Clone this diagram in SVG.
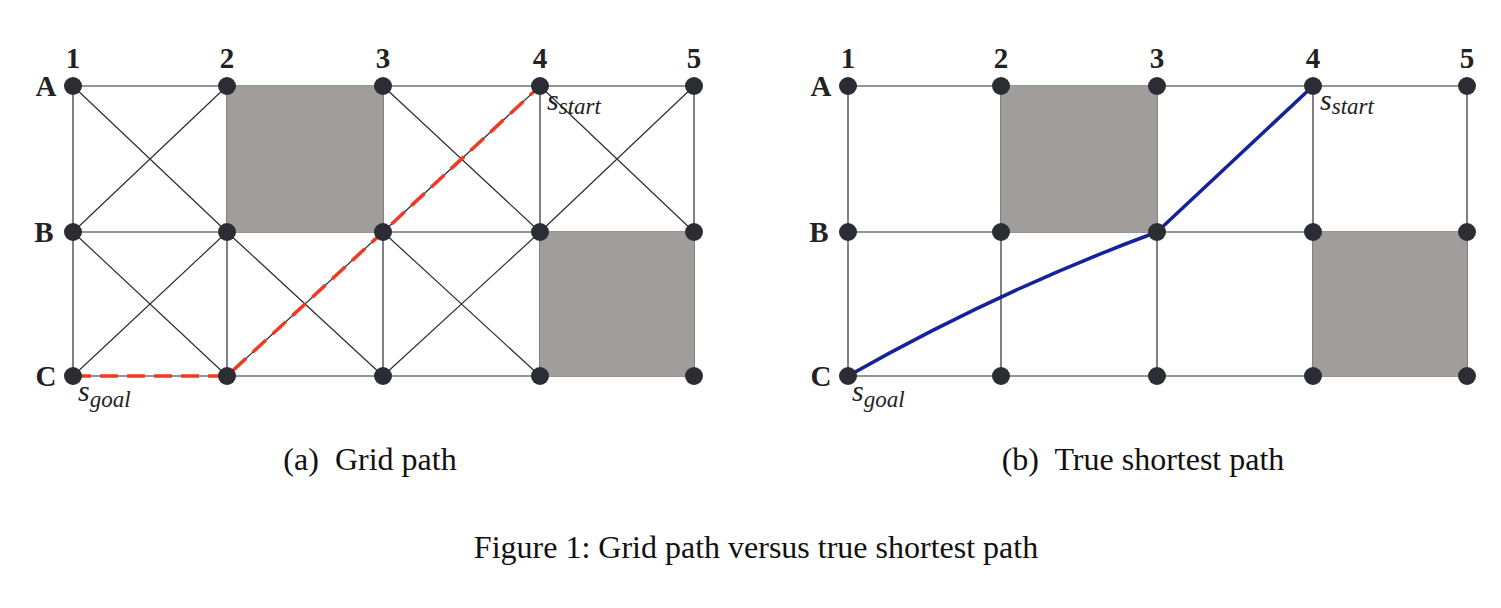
<svg xmlns="http://www.w3.org/2000/svg" width="1501" height="608" viewBox="0 0 1501 608">
<style>
.e{stroke:#2b2d33;stroke-width:1.2;fill:none}
.ob{fill:#a09d9a}
.n{fill:#2b2d33}
.lb{font-family:"Liberation Serif",serif;font-weight:bold;font-size:29px;fill:#222}
.it{font-family:"Liberation Serif",serif;font-style:italic;fill:#222}
.cap{font-family:"Liberation Serif",serif;font-size:32px;fill:#111}
</style>
<rect width="1501" height="608" fill="#fff"/>
<g id="connectors">
<path class="e" d="M73 86H694M73 232H694M73 376H694M73 86V376M227 86V376M383 86V376M540 86V376M694 86V376"/>
<path class="e" d="M73 86L227 232M227 86L73 232M383 86L540 232M540 86L383 232M540 86L694 232M694 86L540 232M73 232L227 376M227 232L73 376M227 232L383 376M383 232L227 376M383 232L540 376M540 232L383 376"/>
<path class="e" d="M848 86H1467M848 232H1467M848 376H1467M848 86V376M1001 86V376M1157 86V376M1313 86V376M1467 86V376"/>
</g>
<g id="obstacles">
<rect class="ob" x="227" y="86" width="156" height="146"/>
<rect class="ob" x="540" y="232" width="154" height="144"/>
<rect class="ob" x="1001" y="86" width="156" height="146"/>
<rect class="ob" x="1313" y="232" width="154" height="144"/>
</g>
<g id="paths">
<path d="M73 376H227L383 232L540 86" fill="none" stroke="#f03a23" stroke-width="3.5" stroke-dasharray="18,9"/>
<path d="M848 376Q1000 290 1157 232L1313 86" fill="none" stroke="#14239a" stroke-width="3.5"/>
</g>
<g id="nodes">
<g class="n">
<circle cx="73" cy="86" r="9"/><circle cx="227" cy="86" r="9"/><circle cx="383" cy="86" r="9"/><circle cx="540" cy="86" r="9"/><circle cx="694" cy="86" r="9"/>
<circle cx="73" cy="232" r="9"/><circle cx="227" cy="232" r="9"/><circle cx="383" cy="232" r="9"/><circle cx="540" cy="232" r="9"/><circle cx="694" cy="232" r="9"/>
<circle cx="73" cy="376" r="9"/><circle cx="227" cy="376" r="9"/><circle cx="383" cy="376" r="9"/><circle cx="540" cy="376" r="9"/><circle cx="694" cy="376" r="9"/>
<circle cx="848" cy="86" r="9"/><circle cx="1001" cy="86" r="9"/><circle cx="1157" cy="86" r="9"/><circle cx="1313" cy="86" r="9"/><circle cx="1467" cy="86" r="9"/>
<circle cx="848" cy="232" r="9"/><circle cx="1001" cy="232" r="9"/><circle cx="1157" cy="232" r="9"/><circle cx="1313" cy="232" r="9"/><circle cx="1467" cy="232" r="9"/>
<circle cx="848" cy="376" r="9"/><circle cx="1001" cy="376" r="9"/><circle cx="1157" cy="376" r="9"/><circle cx="1313" cy="376" r="9"/><circle cx="1467" cy="376" r="9"/>
</g>
</g>
<g id="labels">
<g class="lb" text-anchor="middle">
<text x="73" y="68">1</text><text x="227" y="68">2</text><text x="383" y="68">3</text><text x="540" y="68">4</text><text x="694" y="68">5</text>
<text x="848" y="68">1</text><text x="1001" y="68">2</text><text x="1157" y="68">3</text><text x="1313" y="68">4</text><text x="1467" y="68">5</text>
<text x="46" y="96">A</text><text x="44" y="242">B</text><text x="46" y="386">C</text>
<text x="821" y="96">A</text><text x="819" y="242">B</text><text x="821" y="386">C</text>
</g>
<text class="it" x="547" y="110" font-size="30">s<tspan font-size="23" dy="4">start</tspan></text>
<text class="it" x="1320" y="110" font-size="30">s<tspan font-size="23" dy="4">start</tspan></text>
<text class="it" x="78" y="401" font-size="30">s<tspan font-size="23" dy="6">goal</tspan></text>
<text class="it" x="852" y="401" font-size="30">s<tspan font-size="23" dy="6">goal</tspan></text>
<text class="cap" x="370" y="470" text-anchor="middle" xml:space="preserve">(a)  Grid path</text>
<text class="cap" x="1143" y="470" text-anchor="middle" xml:space="preserve">(b)  True shortest path</text>
<text class="cap" x="756" y="558" text-anchor="middle" font-size="45">Figure 1: Grid path versus true shortest path</text>
</g>
</svg>
